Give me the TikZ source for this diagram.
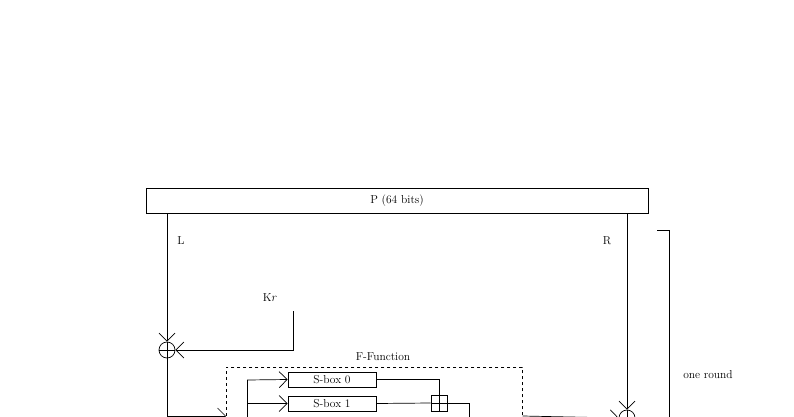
\documentclass[tikz,border=0pt]{standalone}
\usetikzlibrary{arrows.meta}
\begin{document}
\begin{tikzpicture}[x=1pt,y=-1pt,line width=0.7pt,
  lbl/.style={font=\fontsize{11.5}{13}\selectfont,inner sep=0pt},
  wbox/.style={draw,font=\fontsize{11.5}{13}\selectfont,inner sep=0pt},
  xorc/.style={draw,circle,minimum size=16pt,inner sep=0pt},
  arr/.style={-{Straight Barb[length=8pt,width=16pt]}}]
\useasboundingbox (0,0) rectangle (794,417);
\begin{scope}
\clip (0,0) rectangle (794,417);
\node[wbox,minimum width=502pt,minimum height=25pt] (P) at (397,200.5) {P (64 bits)};
\node[lbl] (L) at (181,241) {L};
\node[lbl] (R) at (607,241) {R};
\node[lbl] (K) at (270,298) {K$r$};
\node[xorc] (x1) at (167,350) {};
\draw (x1.north)--(x1.south) (x1.west)--(x1.east);
\node[xorc] (x2) at (627,418) {};
\draw (x2.north)--(x2.south) (x2.west)--(x2.east);
\coordinate (kt) at (293,311);
\draw[arr] (kt) |- (x1.east);
\draw[arr] (P.south -| x1) -- (x1.north);
\draw[arr] (P.south -| x2) -- (x2.north);
\node[draw,dashed,minimum width=296pt,minimum height=100pt,anchor=north west] (F) at (226,367) {};
\node[lbl] (FL) at (383,357) {F-Function};
\draw[arr] (x1.south) |- (F.west |- 0,416);
\node[wbox,minimum width=88pt,minimum height=15pt] (s0) at (332,379.5) {S-box 0};
\node[wbox,minimum width=88pt,minimum height=15pt] (s1) at (332,403.5) {S-box 1};
\coordinate (sp) at (247,380);
\draw[arr] (sp) -- (s0.west);
\draw (sp) -- (247,430);
\draw[arr] (247,403.5) -- (s1.west);
\node[draw,minimum size=16pt,inner sep=0pt] (ad) at (439,403) {};
\draw (ad.north)--(ad.south) (ad.west)--(ad.east);
\draw (s0.east) -| (ad.north);
\draw (s1.east) -- (ad.west);
\draw (ad.east) -| (469,430);
\draw[arr] (F.east |- 0,416) -- (x2.west);
\draw (657,230) -- (669,230) -- (669,430);
\node[lbl] (OR) at (708,375) {one round};
\end{scope}
\end{tikzpicture}
\end{document}
